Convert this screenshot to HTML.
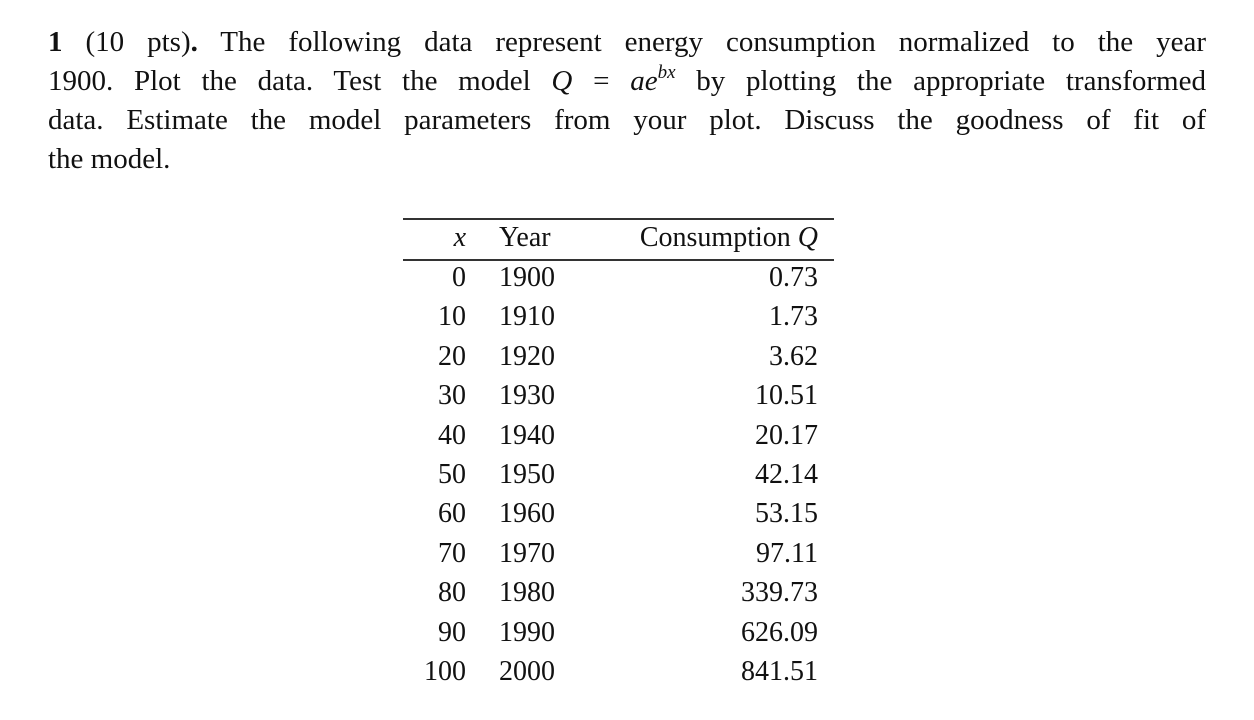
<!DOCTYPE html>
<html><head><meta charset="utf-8">
<style>
body{margin:0;width:1254px;height:720px;background:#fff;overflow:hidden;font-family:"Liberation Serif",serif;color:#111;}
.ln{position:absolute;left:48px;width:1158px;font-size:29px;line-height:38px;white-space:nowrap;}
.j{text-align:justify;text-align-last:justify;white-space:normal;}
i{font-style:italic;}
.rule{position:absolute;left:403px;width:431px;background:#333;}
.cell{position:absolute;font-size:28px;line-height:30px;}
</style></head><body>
<div class="ln j" style="top:23px"><b>1</b> (10 pts)<b>.</b> The following data represent energy consumption normalized to the year</div>
<div class="ln j" style="top:62px">1900. Plot the data. Test the model <i>Q</i> = <i>ae</i><sup style="font-size:19px;vertical-align:12px;line-height:0"><i>bx</i></sup> by plotting the appropriate transformed</div>
<div class="ln j" style="top:101px">data. Estimate the model parameters from your plot. Discuss the goodness of fit of</div>
<div class="ln" style="top:140px">the model.</div>

<div class="rule" style="top:218px;height:2px"></div>
<div class="rule" style="top:259px;height:1.5px"></div>
<div id="tbl"></div>
<script>
const xs=["0","10","20","30","40","50","60","70","80","90","100"];
const years=["1900","1910","1920","1930","1940","1950","1960","1970","1980","1990","2000"];
const cons=["0.73","1.73","3.62","10.51","20.17","42.14","53.15","97.11","339.73","626.09","841.51"];
const tbl=document.getElementById('tbl');
function cell(txt,top,left,right,name,html){
  const d=document.createElement('div');
  d.className='cell';
  d.style.top=top+'px';
  if(left!==null)d.style.left=left+'px';
  if(right!==null){d.style.right=(1254-right)+'px';}
  if(html)d.innerHTML=txt;else d.textContent=txt;
  
  
  tbl.appendChild(d);
}
cell('<i>x</i>',223,null,466,'header-x',true);
cell('Year',223,499,null,'header-year',false);
cell('Consumption <i>Q</i>',223,null,818,'header-consumption',true);
for(let i=0;i<xs.length;i++){
  const t=263+i*39.4;
  cell(xs[i],t,null,466,'x-value',false);
  cell(years[i],t,499,null,'year-value',false);
  cell(cons[i],t,null,818,'consumption-value',false);
}
</script>
</body></html>
